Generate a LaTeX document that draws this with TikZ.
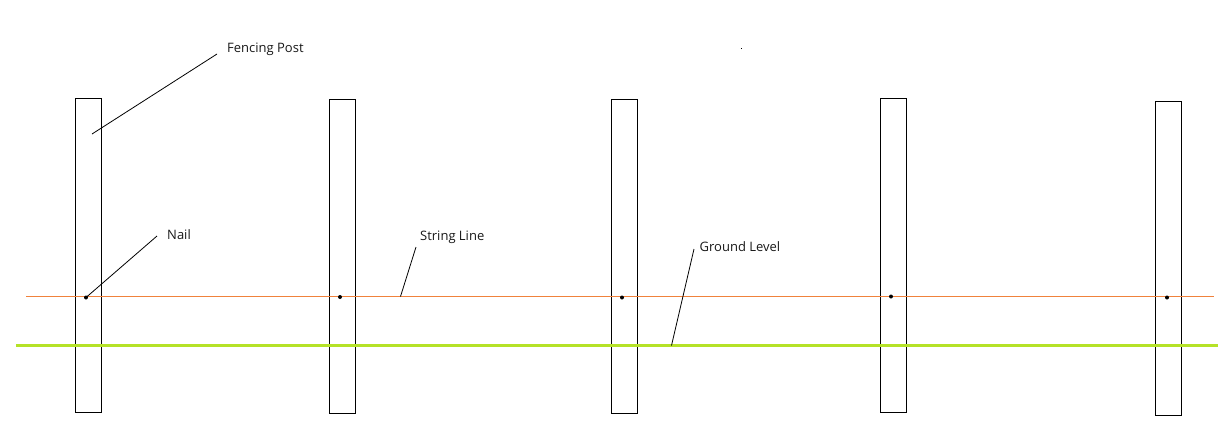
\documentclass[tikz,border=0pt]{standalone}
\usepackage{fontspec}
\setmainfont{Open Sans}
\definecolor{stringorange}{RGB}{240,130,60}
\definecolor{groundgreen}{RGB}{181,226,40}
\begin{document}
\begin{tikzpicture}[x=1pt,y=-1pt,
  post/.style={draw=black, line width=1pt, minimum width=26pt, minimum height=314pt, inner sep=0pt, outer sep=0pt},
  nail/.style={circle, fill=black, inner sep=0pt, minimum size=4pt},
  lbl/.style={anchor=base west, inner sep=0pt, font=\fontsize{13}{15}\selectfont, text=black!90},
  leader/.style={draw=black, line width=0.8pt}]
\useasboundingbox[fill=white] (0,0) rectangle (1220,445);
% posts
\node[post] (p1) at (88,255) {};
\node[post] (p2) at (342,256) {};
\node[post] (p3) at (624,256) {};
\node[post] (p4) at (893,255) {};
\node[post] (p5) at (1168,258) {};
% string and ground lines
\coordinate (sL) at (26,296.5);
\coordinate (sR) at (1214,296.5);
\coordinate (gL) at (16,345.5);
\coordinate (gR) at (1218,345.5);
\draw[stringorange, line width=1pt] (sL) -- (sR);
\draw[groundgreen, line width=3.2pt] (gL) -- (gR);
% nails
\node[nail] (n1) at (86,297.5) {};
\node[nail] (n2) at (340,297) {};
\node[nail] (n3) at (622,297.5) {};
\node[nail] (n4) at (891,296.5) {};
\node[nail] (n5) at (1167,297.5) {};
% labels
\node[lbl] (lfp) at (227,52.5) {Fencing Post};
\node[lbl] (lnail) at (167,239.3) {Nail};
\node[lbl] (lstr) at (420,240.7) {String Line};
\node[lbl] (lgnd) at (699.5,251.7) {Ground Level};
% leader lines
\coordinate (fpA) at (217,54);
\coordinate (fpB) at (92,134);
\coordinate (naA) at (157,236);
\coordinate (stA) at (416,247);
\coordinate (stB) at (400.5,296.5);
\coordinate (gnA) at (694,249);
\coordinate (gnB) at (671.5,345.5);
\draw[leader] (fpA) -- (fpB);
\draw[leader] (naA) -- (n1.center);
\draw[leader] (stA) -- (stB);
\draw[leader] (gnA) -- (gnB);
% stray speck
\fill[black] (740.8,47.8) rectangle (741.8,48.8);
\end{tikzpicture}
\end{document}
